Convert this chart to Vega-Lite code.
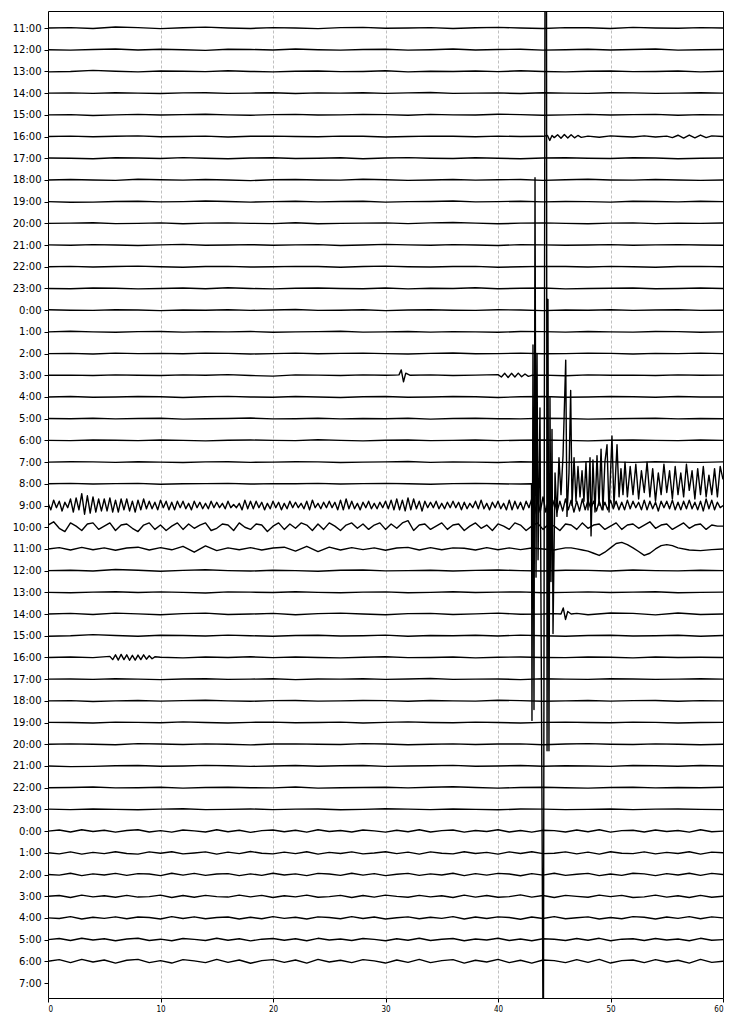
{
"$schema": "https://vega.github.io/schema/vega-lite/v6.json",
"autosize": {"type": "none"},
"padding": {"left": 48, "top": 11, "right": 13, "bottom": 26},
"width": 675,
"height": 987,
"background": "white",
"data": {"values": [
{"row":0,"t":[0,2,4,6,8,10,12,14,16,18,20,22,24,26,28,30,32,34,36,38,40,42,44,46,48,50,52,54,56,58,60],"v":[0,0.02,-0.02,0.05,0.02,-0.03,0.01,0.04,0,-0.02,0.02,0,-0.03,0.02,0.03,-0.01,0,0.02,-0.02,0.01,0.03,0,-0.02,0.02,0.01,-0.02,0.03,0,-0.01,0.02,0]},
{"row":1,"t":[0,2,4,6,8,10,12,14,16,18,20,22,24,26,28,30,32,34,36,38,40,42,44,46,48,50,52,54,56,58,60],"v":[0,-0.02,0.01,0.03,-0.01,0.02,0,-0.03,0.02,0.01,-0.01,0.03,0,-0.02,0.01,0.02,-0.02,0,0.03,-0.01,0.01,0.02,-0.02,0,0.02,-0.01,0.01,0.03,-0.02,0,0.01]},
{"row":2,"t":[0,2,4,6,8,10,12,14,16,18,20,22,24,26,28,30,32,34,36,38,40,42,44,46,48,50,52,54,56,58,60],"v":[-0.02,0,0.05,0.01,-0.02,0.02,0.01,-0.01,0.03,0,-0.02,0.01,0.02,-0.01,0,0.03,-0.02,0.01,0,0.02,-0.01,0.03,0,-0.02,0.01,0.02,-0.01,0,0.02,-0.02,0.01]},
{"row":3,"t":[0,2,4,6,8,10,12,14,16,18,20,22,24,26,28,30,32,34,36,38,40,42,44,46,48,50,52,54,56,58,60],"v":[0,0.01,-0.01,0.02,0,-0.02,0.01,0.02,-0.01,0,0.02,-0.02,0.01,0,0.02,-0.01,0.01,0.03,-0.01,0,0.01,-0.02,0.02,0,-0.01,0.02,0.01,-0.01,0,0.02,0]},
{"row":4,"t":[0,2,4,6,8,10,12,14,16,18,20,22,24,26,28,30,32,34,36,38,40,42,44,46,48,50,52,54,56,58,60],"v":[0,0.01,-0.03,0,0.02,-0.01,0.01,0.03,0,-0.02,0.01,0.02,-0.01,0,0.02,0.01,-0.02,0.02,0,-0.01,0.03,0.01,-0.02,0,0.02,-0.01,0.01,0.02,-0.02,0.01,0]},
{"row":5,"t":[0,2,4,6,8,10,12,14,16,18,20,22,24,26,28,30,32,34,36,38,40,42,44,44.4,44.6,44.8,45,45.3,45.6,45.9,46.2,46.5,46.8,47.1,47.4,48,49,50,51,52,53,54,55,55.5,56,56.5,57,57.5,58,58.5,59,60],"v":[0,0.02,-0.01,0.01,0.03,-0.01,0,0.02,-0.02,0.01,0.02,0,-0.01,0.02,0.01,-0.02,0,0.02,0.01,-0.01,0.02,0,0.01,0.05,-0.18,0.05,-0.05,0.08,-0.08,0.09,-0.07,0.08,-0.06,0.05,-0.04,0.02,-0.03,0.03,0,-0.02,0.03,-0.02,0.02,-0.05,0.06,-0.07,0.07,-0.06,0.07,-0.05,0.03,0]},
{"row":6,"t":[0,2,4,6,8,10,12,14,16,18,20,22,24,26,28,30,32,34,36,38,40,42,44,46,48,50,52,54,56,58,60],"v":[0.01,0,-0.02,0.02,0.01,-0.01,0.03,0,-0.02,0.01,0.02,-0.01,0,0.02,-0.02,0.01,0.03,0,-0.01,0.02,0,-0.02,0.01,0.02,0,-0.01,0.02,0.01,-0.02,0,0.01]},
{"row":7,"t":[0,2,4,6,8,10,12,14,16,18,20,22,24,26,28,30,32,34,36,38,40,42,44,46,48,50,52,54,56,58,60],"v":[0,0.02,0,-0.02,0.03,0.01,-0.01,0.02,0,-0.03,0.01,0.02,0,-0.01,0.03,0.01,-0.02,0,0.02,-0.01,0.01,0.02,-0.02,0.01,0.03,0,-0.01,0.02,0,-0.02,0]},
{"row":8,"t":[0,2,4,6,8,10,12,14,16,18,20,22,24,26,28,30,32,34,36,38,40,42,44,46,48,50,52,54,56,58,60],"v":[0,-0.03,-0.02,0.01,0.02,-0.01,0,0.03,0.01,-0.02,0,0.02,-0.01,0.01,0.02,-0.02,0,0.01,0.03,-0.01,0,0.02,-0.01,0.01,0,-0.02,0.02,0.01,-0.01,0.02,0]},
{"row":9,"t":[0,2,4,6,8,10,12,14,16,18,20,22,24,26,28,30,32,34,36,38,40,42,44,46,48,50,52,54,56,58,60],"v":[0,0.01,0.03,-0.01,0,0.02,-0.02,0.01,0.02,0,-0.01,0.03,-0.02,0,0.01,0.02,-0.01,0.02,0.04,0.01,-0.02,0.01,0.02,0,-0.02,0.01,0.02,-0.01,0.01,0,0.02]},
{"row":10,"t":[0,2,4,6,8,10,12,14,16,18,20,22,24,26,28,30,32,34,36,38,40,42,44,46,48,50,52,54,56,58,60],"v":[0.01,-0.01,0.02,0,-0.02,0.01,0.03,-0.01,0,0.02,-0.01,0.01,0.02,-0.02,0,0.03,0.01,-0.01,0.02,0,-0.02,0.02,0.01,-0.01,0,0.02,-0.01,0.01,0.02,0,-0.01]},
{"row":11,"t":[0,2,4,6,8,10,12,14,16,18,20,22,24,26,28,30,32,34,36,38,40,42,44,46,48,50,52,54,56,58,60],"v":[0,0.02,-0.01,0.01,0.03,0,-0.02,0.01,0.02,-0.01,0,0.02,0.01,-0.02,0.01,0.03,0,-0.01,0.01,0.02,-0.02,0,0.02,0.01,-0.01,0.02,0,-0.02,0.01,0.02,0]},
{"row":12,"t":[0,2,4,6,8,10,12,14,16,18,20,22,24,26,28,30,32,34,36,38,40,42,44,46,48,50,52,54,56,58,60],"v":[0,-0.01,0.02,0.01,-0.02,0,0.02,-0.01,0.03,0,-0.02,0.01,0.02,0,-0.01,0.02,-0.02,0.01,0,0.03,-0.01,0.01,0.02,-0.02,0,0.01,0.02,-0.01,0,0.02,0]},
{"row":13,"t":[0,2,4,6,8,10,12,14,16,18,20,22,24,26,28,30,32,34,36,38,40,42,44,46,48,50,52,54,56,58,60],"v":[0.02,0,-0.01,0.02,0.01,-0.02,0.01,0,0.02,-0.01,0.01,0.03,-0.01,0,0.02,-0.02,0.01,0.02,0,-0.01,0.02,0.01,-0.02,0.01,0,0.02,-0.01,0.01,0.02,-0.01,0]},
{"row":14,"t":[0,2,4,6,8,10,12,14,16,18,20,22,24,26,28,30,32,34,36,38,40,42,44,46,48,50,52,54,56,58,60],"v":[0,0.03,0,-0.02,0.01,0.02,-0.01,0.01,0,0.02,-0.02,0,0.01,0.03,-0.01,0,0.02,-0.01,0.01,0,-0.02,0.02,0.01,-0.01,0.02,0,-0.01,0.02,0.01,-0.02,0]},
{"row":15,"t":[0,2,4,6,8,10,12,14,16,18,20,22,24,26,28,30,32,34,36,38,40,42,44,46,48,50,52,54,56,58,60],"v":[0,0.01,-0.02,0.02,0,0.01,-0.01,0.02,0.01,-0.02,0,0.02,-0.01,0.01,0.02,0,-0.02,0.01,0.03,-0.01,0,0.02,-0.01,0,0.02,0.01,-0.02,0.01,0,0.02,0]},
{"row":16,"t":[0,2,4,6,8,10,12,14,16,18,20,22,24,26,28,30,30.8,31.2,31.4,31.6,31.8,32.2,34,36,38,40,40.3,40.6,40.9,41.2,41.5,41.8,42.1,42.4,42.7,43,44,46,48,50,52,54,56,58,60],"v":[0,0.01,-0.01,0.02,0,-0.01,0.02,0,0.03,-0.01,-0.04,0.02,0.01,-0.01,0.02,0,0.01,0.02,0.25,-0.3,0.1,0,0.02,-0.01,0.01,0.03,-0.08,0.09,-0.1,0.09,-0.08,0.1,-0.07,0.06,-0.05,0,0.01,-0.02,0.02,0,0.01,-0.01,0.02,0,0.01]},
{"row":17,"t":[0,2,4,6,8,10,12,14,16,18,20,22,24,26,28,30,32,34,36,38,40,42,44,46,48,50,52,54,56,58,60],"v":[0,0.02,-0.01,0,0.02,0.01,-0.02,0.01,0.03,0,-0.01,0.02,0,-0.02,0.01,0.02,-0.01,0,0.02,0.01,-0.02,0.01,0.02,-0.01,0,0.02,0.01,-0.01,0.02,0,0]},
{"row":18,"t":[0,2,4,6,8,10,12,14,16,18,20,22,24,26,28,30,32,34,36,38,40,42,44,46,48,50,52,54,56,58,60],"v":[0.01,0,0.02,-0.01,0.01,0.02,-0.02,0,0.01,0.03,-0.01,0,0.02,-0.01,0.01,0,0.02,-0.02,0.01,0.02,0,-0.01,0.02,0.01,-0.02,0,0.01,0.02,-0.01,0.01,0]},
{"row":19,"t":[0,2,4,6,8,10,12,14,16,18,20,22,24,26,28,30,32,34,36,38,40,42,44,46,48,50,52,54,56,58,60],"v":[0,-0.01,0.02,0.01,-0.01,0.02,0,-0.02,0.01,0.02,0,-0.01,0.03,0,-0.02,0.01,0.02,-0.01,0,0.02,-0.01,0.01,0.02,0,-0.02,0.01,0.02,0,-0.01,0.02,0]},
{"row":20,"t":[0,2,4,6,8,10,12,14,16,18,20,22,24,26,28,30,32,34,36,38,40,42,44,46,48,50,52,54,56,58,60],"v":[0,0.02,0.01,-0.01,0.02,0,-0.02,0.01,0.02,-0.01,0,0.02,0.01,-0.02,0,0.01,0.03,-0.01,0.01,0,-0.02,0.02,0,-0.01,0.02,0.01,-0.01,0.02,0,-0.01,0.01]},
{"row":21,"t":[0,2,4,6,8,10,12,14,16,18,20,22,24,26,28,30,32,34,36,38,40,42,42.98,43.02,43.11,43.2,43.29,43.38,43.47,43.56,43.73,43.87,44.0,44.04,44.18,44.31,44.36,44.44,44.53,44.62,44.71,44.8,44.89,45.07,45.24,45.42,45.6,45.78,46.02,46.13,46.31,46.46,46.58,46.76,46.93,47.11,47.29,47.47,47.64,47.82,48.0,48.18,48.27,48.44,48.62,48.8,48.98,49.16,49.33,49.5,49.69,49.87,50.13,50.31,50.58,50.76,50.93,51.11,51.29,51.5,51.75,52,52.25,52.5,52.75,53,53.25,53.5,53.75,54,54.25,54.5,54.75,55,55.25,55.5,55.75,56,56.25,56.5,56.75,57,57.25,57.5,57.75,58,58.25,58.5,58.75,59,59.25,59.5,59.75,60],"v":[0,0.02,-0.01,0.01,0.02,-0.02,0,0.01,0.02,-0.01,0.01,0,0.02,-0.01,0.01,0.02,0,-0.02,0.01,0.02,0,-0.01,0,-10.9,6.4,-10.4,14.1,-4.3,6.0,-3.5,3.5,-10.5,-25,-25,24,24,-12.3,8.5,-12.3,4.0,-4.5,2.5,-6.9,0.5,-1.5,1.2,-0.5,1.3,5.7,-1.5,0.5,4.3,-1.0,1.2,-0.8,0.8,-0.6,0.6,-0.8,1.0,-1.2,1.2,-2.4,1.1,-1.3,1.3,-1.0,1.6,-1.2,1.0,1.8,-1.3,2.2,-1.0,1.8,-0.6,0.7,-0.5,1.0,-0.6,0.8,-0.5,0.9,-0.7,0.6,-0.4,1.0,-0.6,0.7,-0.8,0.5,-0.5,0.9,-0.4,0.6,-0.7,0.8,-0.5,0.5,-0.6,0.9,-0.3,0.6,-0.7,0.7,-0.5,0.8,-0.6,0.4,-0.5,0.7,-0.6,0.8,0.2]},
{"row":22,"t":[0,0.25,0.5,0.75,1,1.25,1.5,1.75,2,2.25,2.5,2.75,3,3.25,3.5,3.75,4,4.25,4.5,4.75,5,5.25,5.5,5.75,6,6.25,6.5,6.75,7,7.25,7.5,7.75,8,8.25,8.5,8.75,9,9.25,9.5,9.75,10,10.25,10.5,10.75,11,11.25,11.5,11.75,12,12.25,12.5,12.75,13,13.25,13.5,13.75,14,14.25,14.5,14.75,15,15.25,15.5,15.75,16,16.25,16.5,16.75,17,17.25,17.5,17.75,18,18.25,18.5,18.75,19,19.25,19.5,19.75,20,20.25,20.5,20.75,21,21.25,21.5,21.75,22,22.25,22.5,22.75,23,23.25,23.5,23.75,24,24.25,24.5,24.75,25,25.25,25.5,25.75,26,26.25,26.5,26.75,27,27.25,27.5,27.75,28,28.25,28.5,28.75,29,29.25,29.5,29.75,30,30.25,30.5,30.75,31,31.25,31.5,31.75,32,32.25,32.5,32.75,33,33.25,33.5,33.75,34,34.25,34.5,34.75,35,35.25,35.5,35.75,36,36.25,36.5,36.75,37,37.25,37.5,37.75,38,38.25,38.5,38.75,39,39.25,39.5,39.75,40,40.25,40.5,40.75,41,41.25,41.5,41.75,42,42.25,42.5,42.75,43,43.25,43.5,43.75,44,44.25,44.5,44.75,45,45.25,45.5,45.75,46,46.25,46.5,46.75,47,47.25,47.5,47.75,48,48.25,48.5,48.75,49,49.25,49.5,49.75,50,50.25,50.5,50.75,51,51.25,51.5,51.75,52,52.25,52.5,52.75,53,53.25,53.5,53.75,54,54.25,54.5,54.75,55,55.25,55.5,55.75,56,56.25,56.5,56.75,57,57.25,57.5,57.75,58,58.25,58.5,58.75,59,59.25,59.5,59.75,60],"v":[0.1,-0.2,0.25,-0.1,0.2,-0.25,0.15,-0.1,0.3,-0.3,0.35,-0.2,0.55,-0.4,0.45,-0.35,0.4,-0.3,0.3,-0.25,0.3,-0.25,0.35,-0.3,0.25,-0.3,0.3,-0.2,0.3,-0.25,0.2,-0.3,0.25,-0.2,0.3,-0.15,0.2,-0.15,0.15,-0.2,0.25,-0.1,0.2,-0.2,0.15,-0.2,0.2,-0.1,0.2,-0.15,0.1,-0.2,0.2,-0.1,0.15,-0.15,0.1,-0.15,0.2,-0.1,0.15,-0.1,0.1,-0.15,0.2,-0.1,0.05,-0.1,0.1,-0.2,0.25,-0.15,0.2,-0.15,0.2,-0.1,0.15,-0.2,0.1,-0.15,0.2,-0.1,0.15,-0.2,0.1,-0.15,0.2,-0.1,0.15,-0.1,0.1,-0.15,0.2,-0.2,0.25,-0.1,0.1,-0.15,0.15,-0.1,0.2,-0.1,0.15,-0.2,0.25,-0.2,0.3,-0.15,0.2,-0.15,0.1,-0.2,0.15,-0.1,0.2,-0.15,0.1,-0.15,0.15,-0.1,0.2,-0.15,0.25,-0.2,0.3,-0.2,0.25,-0.25,0.35,-0.2,0.3,-0.15,0.2,-0.25,0.2,-0.1,0.15,-0.1,0.2,-0.15,0.1,-0.15,0.15,-0.1,0.2,-0.1,0.15,-0.2,0.15,-0.15,0.1,-0.1,0.2,-0.15,0.25,-0.15,0.1,-0.2,0.15,-0.1,0.2,-0.15,0.1,-0.2,0.25,-0.2,0.2,-0.15,0.15,-0.2,0.2,-0.1,0.3,-0.4,0.3,-0.3,0.4,-0.3,0.3,-0.25,0.25,-0.3,0.2,-0.25,0.3,-0.2,0.25,-0.3,0.2,-0.25,0.3,-0.2,0.25,-0.15,0.2,-0.25,0.2,-0.2,0.15,-0.2,0.25,-0.15,0.2,-0.2,0.15,-0.2,0.25,-0.15,0.2,-0.1,0.15,-0.2,0.25,-0.2,0.2,-0.15,0.15,-0.25,0.2,-0.1,0.2,-0.15,0.25,-0.2,0.15,-0.2,0.2,-0.15,0.25,-0.15,0.15,-0.2,0.2,-0.25,0.3,-0.15,0.25,-0.2,0.15,-0.1,0]},
{"row":23,"t":[0,0.5,1,1.5,2,2.5,3,3.5,4,4.5,5,5.5,6,6.5,7,7.5,8,8.5,9,9.5,10,10.5,11,11.5,12,12.5,13,13.5,14,14.5,15,15.5,16,16.5,17,17.5,18,18.5,19,19.5,20,20.5,21,21.5,22,22.5,23,23.5,24,24.5,25,25.5,26,26.5,27,27.5,28,28.5,29,29.5,30,30.5,31,31.5,32,32.5,33,33.5,34,34.5,35,35.5,36,36.5,37,37.5,38,38.5,39,39.5,40,40.5,41,41.5,42,42.5,43,43.5,44,44.5,45,45.5,46,46.5,47,47.5,48,48.5,49,49.5,50,50.5,51,51.5,52,52.5,53,53.5,54,54.5,55,55.5,56,56.5,57,57.5,58,58.5,59,59.5,60],"v":[0.1,0.25,-0.05,-0.2,0.2,0.05,-0.15,0.15,0.2,-0.1,0.05,0.2,-0.15,0.1,0.15,-0.05,-0.2,0.1,0.2,-0.1,0.1,-0.15,0.05,0.2,-0.1,0.15,-0.05,0.1,0.2,-0.15,-0.05,0.15,0.1,-0.15,0.2,0,-0.1,0.15,0.1,-0.2,0.05,0.2,-0.1,0.15,-0.05,0.2,0.1,-0.15,0.15,-0.1,0.2,0.05,-0.15,0.1,0.2,-0.05,0.15,-0.1,0.1,0.2,-0.1,0.15,-0.05,0.2,0.3,-0.15,0.1,0.15,-0.1,0.05,0.2,-0.1,0.1,0.15,-0.15,0.05,0.2,-0.05,0.1,-0.15,0.15,0.05,-0.1,0.2,0.1,-0.15,0.05,0.2,-0.1,0.15,0.05,-0.15,0.15,0.1,-0.1,0.2,-0.05,0.1,0.15,-0.1,0.05,0.2,-0.1,0.1,0.15,-0.05,0.1,0.25,-0.05,0.1,0.15,-0.1,0.05,0.2,-0.05,0.1,0.15,-0.1,0.1,0.05,0.05]},
{"row":24,"t":[0,1,2,3,4,5,6,7,8,9,10,11,12,13,14,15,16,17,18,19,20,21,22,23,24,25,26,27,28,29,30,31,32,33,34,35,36,37,38,39,40,41,42,43,44,45,45.5,46,46.5,47,47.5,48,48.5,49,49.5,50,50.5,51,51.5,52,52.5,53,53.5,54,54.5,55,55.5,56,57,58,59,60],"v":[0,0.06,-0.05,0.07,-0.04,0.05,-0.06,0.04,0.08,-0.05,0.06,-0.04,0.12,-0.15,0.14,-0.08,0.05,-0.04,0.06,-0.05,0.04,0.08,-0.1,0.12,-0.12,0.08,-0.05,0.06,-0.03,0.05,-0.06,0.04,0.07,-0.05,0.06,-0.04,0.05,0.03,-0.05,0.06,-0.04,0.05,-0.03,0.04,0,-0.05,0,0.05,0.05,0,-0.05,-0.1,-0.2,-0.3,-0.15,0.05,0.25,0.3,0.2,0.05,-0.12,-0.3,-0.2,0,0.15,0.2,0.15,0.05,-0.05,-0.08,-0.03,0]},
{"row":25,"t":[0,2,4,6,8,10,12,14,16,18,20,22,24,26,28,30,32,34,36,38,40,42,44,46,48,50,52,54,56,58,60],"v":[0,0.02,-0.02,0.05,0.02,-0.03,0.01,0.04,0,-0.02,0.02,0,-0.03,0.02,0.03,-0.01,0,0.02,-0.02,0.01,0.03,0,-0.02,0.02,0.01,-0.02,0.03,0,-0.01,0.02,0]},
{"row":26,"t":[0,2,4,6,8,10,12,14,16,18,20,22,24,26,28,30,32,34,36,38,40,42,44,46,48,50,52,54,56,58,60],"v":[0,-0.02,0.01,0.03,-0.01,0.02,0,-0.03,0.02,0.01,-0.01,0.03,0,-0.02,0.01,0.02,-0.02,0,0.03,-0.01,0.01,0.02,-0.02,0,0.02,-0.01,0.01,0.03,-0.02,0,0.01]},
{"row":27,"t":[0,2,4,6,8,10,12,14,16,18,20,22,24,26,28,30,32,34,36,38,40,42,44,45,45.6,45.8,46,46.2,46.5,47,48,50,52,54,56,58,60],"v":[0,0.03,-0.02,0.04,0.01,-0.03,0.02,0.04,-0.02,0,0.03,-0.03,0.02,0.04,0,-0.03,0.02,0.03,-0.02,0.01,0.04,-0.01,0,0.02,0,0.28,-0.25,0.12,0,0.03,-0.03,0.05,0.03,-0.04,0.05,-0.02,0]},
{"row":28,"t":[0,2,4,6,8,10,12,14,16,18,20,22,24,26,28,30,32,34,36,38,40,42,44,46,48,50,52,54,56,58,60],"v":[-0.02,0,0.05,0.01,-0.02,0.02,0.01,-0.01,0.03,0,-0.02,0.01,0.02,-0.01,0,0.03,-0.02,0.01,0,0.02,-0.01,0.03,0,-0.02,0.01,0.02,-0.01,0,0.02,-0.02,0.01]},
{"row":29,"t":[0,2,4,5.5,5.75,6,6.25,6.5,6.75,7,7.25,7.5,7.75,8,8.25,8.5,8.75,9,9.25,9.5,10,12,14,16,18,20,22,24,26,28,30,32,34,36,38,40,42,44,46,48,50,52,54,56,58,60],"v":[0,0.02,-0.01,0.05,-0.1,0.12,-0.12,0.14,-0.1,0.12,-0.13,0.1,-0.12,0.11,-0.1,0.12,-0.08,0.08,-0.06,0.03,0.01,-0.02,0.02,0,0.03,-0.01,0.02,0,-0.02,0.01,0.03,-0.01,0,0.02,-0.02,0.01,0.02,0,-0.01,0.02,0.01,-0.02,0.02,0,0.01,0]},
{"row":30,"t":[0,2,4,6,8,10,12,14,16,18,20,22,24,26,28,30,32,34,36,38,40,42,44,46,48,50,52,54,56,58,60],"v":[0,0.01,-0.01,0.02,0,-0.02,0.01,0.02,-0.01,0,0.02,-0.02,0.01,0,0.02,-0.01,0.01,0.03,-0.01,0,0.01,-0.02,0.02,0,-0.01,0.02,0.01,-0.01,0,0.02,0]},
{"row":31,"t":[0,2,4,6,8,10,12,14,16,18,20,22,24,26,28,30,32,34,36,38,40,42,44,46,48,50,52,54,56,58,60],"v":[0,0.01,-0.03,0,0.02,-0.01,0.01,0.03,0,-0.02,0.01,0.02,-0.01,0,0.02,0.01,-0.02,0.02,0,-0.01,0.03,0.01,-0.02,0,0.02,-0.01,0.01,0.02,-0.02,0.01,0]},
{"row":32,"t":[0,2,4,6,8,10,12,14,16,18,20,22,24,26,28,30,32,34,36,38,40,42,44,46,48,50,52,54,56,58,60],"v":[0.01,0,-0.02,0.02,0.01,-0.01,0.03,0,-0.02,0.01,0.02,-0.01,0,0.02,-0.02,0.01,0.03,0,-0.01,0.02,0,-0.02,0.01,0.02,0,-0.01,0.02,0.01,-0.02,0,0.01]},
{"row":33,"t":[0,2,4,6,8,10,12,14,16,18,20,22,24,26,28,30,32,34,36,38,40,42,44,46,48,50,52,54,56,58,60],"v":[0,0.02,0,-0.02,0.03,0.01,-0.01,0.02,0,-0.03,0.01,0.02,0,-0.01,0.03,0.01,-0.02,0,0.02,-0.01,0.01,0.02,-0.02,0.01,0.03,0,-0.01,0.02,0,-0.02,0]},
{"row":34,"t":[0,2,4,6,8,10,12,14,16,18,20,22,24,26,28,30,32,34,36,38,40,42,44,46,48,50,52,54,56,58,60],"v":[0,-0.03,-0.02,0.01,0.02,-0.01,0,0.03,0.01,-0.02,0,0.02,-0.01,0.01,0.02,-0.02,0,0.01,0.03,-0.01,0,0.02,-0.01,0.01,0,-0.02,0.02,0.01,-0.01,0.02,0]},
{"row":35,"t":[0,2,4,6,8,10,12,14,16,18,20,22,24,26,28,30,32,34,36,38,40,42,44,46,48,50,52,54,56,58,60],"v":[0,0.01,0.03,-0.01,0,0.02,-0.02,0.01,0.02,0,-0.01,0.03,-0.02,0,0.01,0.02,-0.01,0.02,0.04,0.01,-0.02,0.01,0.02,0,-0.02,0.01,0.02,-0.01,0.01,0,0.02]},
{"row":36,"t":[0,2,4,6,8,10,12,14,16,18,20,22,24,26,28,30,32,34,36,38,40,42,44,46,48,50,52,54,56,58,60],"v":[0.01,-0.01,0.02,0,-0.02,0.01,0.03,-0.01,0,0.02,-0.01,0.01,0.02,-0.02,0,0.03,0.01,-0.01,0.02,0,-0.02,0.02,0.01,-0.01,0,0.02,-0.01,0.01,0.02,0,-0.01]},
{"row":37,"t":[0,1,2,3,4,5,6,7,8,9,10,11,12,13,14,15,16,17,18,19,20,21,22,23,24,25,26,27,28,29,30,31,32,33,34,35,36,37,38,39,40,41,42,43,44,45,46,47,48,49,50,51,52,53,54,55,56,57,58,59,60],"v":[0,0.05,-0.04,0.06,-0.02,0.04,-0.05,0.03,0.06,-0.04,0.02,-0.05,0.05,0.01,-0.04,0.06,-0.03,0.04,-0.06,0.02,0.05,-0.03,0.04,-0.05,0.06,-0.02,0.03,-0.04,0.05,0.01,-0.05,0.04,-0.03,0.06,-0.04,0.02,0.05,-0.05,0.03,-0.02,0.06,-0.04,0.03,-0.05,0.04,0.02,-0.04,0.05,-0.03,0.06,-0.05,0.02,0.04,-0.04,0.05,-0.02,0.03,-0.05,0.06,-0.03,0]},
{"row":38,"t":[0,1,2,3,4,5,6,7,8,9,10,11,12,13,14,15,16,17,18,19,20,21,22,23,24,25,26,27,28,29,30,31,32,33,34,35,36,37,38,39,40,41,42,43,44,45,46,47,48,49,50,51,52,53,54,55,56,57,58,59,60],"v":[0,-0.05,0.04,-0.06,0.02,-0.04,0.05,-0.03,-0.06,0.04,-0.02,0.05,-0.05,-0.01,0.04,-0.06,0.03,-0.04,0.06,-0.02,-0.05,0.03,-0.04,0.05,-0.06,0.02,-0.03,0.04,-0.05,-0.01,0.05,-0.04,0.03,-0.06,0.04,-0.02,-0.05,0.05,-0.03,0.02,-0.06,0.04,-0.03,0.05,-0.04,-0.02,0.04,-0.05,0.03,-0.06,0.05,-0.02,-0.04,0.04,-0.05,0.02,-0.03,0.05,-0.06,0.03,0]},
{"row":39,"t":[0,1,2,3,4,5,6,7,8,9,10,11,12,13,14,15,16,17,18,19,20,21,22,23,24,25,26,27,28,29,30,31,32,33,34,35,36,37,38,39,40,41,42,43,44,45,46,47,48,49,50,51,52,53,54,55,56,57,58,59,60],"v":[0,-0.03,0.06,-0.05,0.03,-0.02,0.05,-0.04,0.04,0.02,-0.05,0.06,-0.03,0.05,-0.04,0.02,0.04,-0.05,0.03,-0.04,0.06,-0.02,0.03,-0.05,0.05,0.02,-0.04,0.06,-0.03,0.04,-0.05,0.01,0.05,-0.04,0.03,-0.02,0.06,-0.05,0.04,-0.03,0.05,0.02,-0.06,0.04,-0.03,0.06,-0.04,0.01,0.05,-0.05,0.02,-0.04,0.06,0.03,-0.05,0.04,-0.02,0.06,-0.04,0.05,0]},
{"row":40,"t":[0,1,2,3,4,5,6,7,8,9,10,11,12,13,14,15,16,17,18,19,20,21,22,23,24,25,26,27,28,29,30,31,32,33,34,35,36,37,38,39,40,41,42,43,44,45,46,47,48,49,50,51,52,53,54,55,56,57,58,59,60],"v":[0,0.03,-0.06,0.05,-0.03,0.02,-0.05,0.04,-0.04,-0.02,0.05,-0.06,0.03,-0.05,0.04,-0.02,-0.04,0.05,-0.03,0.04,-0.06,0.02,-0.03,0.05,-0.05,-0.02,0.04,-0.06,0.03,-0.04,0.05,-0.01,-0.05,0.04,-0.03,0.02,-0.06,0.05,-0.04,0.03,-0.05,-0.02,0.06,-0.04,0.03,-0.06,0.04,-0.01,-0.05,0.05,-0.02,0.04,-0.06,-0.03,0.05,-0.04,0.02,-0.06,0.04,-0.05,0]},
{"row":41,"t":[0,1,2,3,4,5,6,7,8,9,10,11,12,13,14,15,16,17,18,19,20,21,22,23,24,25,26,27,28,29,30,31,32,33,34,35,36,37,38,39,40,41,42,43,44,45,46,47,48,49,50,51,52,53,54,55,56,57,58,59,60],"v":[0,-0.03,0.06,-0.05,0.03,-0.02,0.05,-0.04,0.04,0.02,-0.05,0.06,-0.03,0.05,-0.04,0.02,0.04,-0.05,0.03,-0.04,0.06,-0.02,0.03,-0.05,0.05,0.02,-0.04,0.06,-0.03,0.04,-0.05,0.01,0.05,-0.04,0.03,-0.02,0.06,-0.05,0.04,-0.03,0.05,0.02,-0.06,0.04,-0.03,0.06,-0.04,0.01,0.05,-0.05,0.02,-0.04,0.06,0.03,-0.05,0.04,-0.02,0.06,-0.04,0.05,0]},
{"row":42,"t":[0,1,2,3,4,5,6,7,8,9,10,11,12,13,14,15,16,17,18,19,20,21,22,23,24,25,26,27,28,29,30,31,32,33,34,35,36,37,38,39,40,41,42,43,44,45,46,47,48,49,50,51,52,53,54,55,56,57,58,59,60],"v":[0,0.05,-0.04,0.06,-0.02,0.04,-0.05,0.03,0.06,-0.04,0.02,-0.05,0.05,0.01,-0.04,0.06,-0.03,0.04,-0.06,0.02,0.05,-0.03,0.04,-0.05,0.06,-0.02,0.03,-0.04,0.05,0.01,-0.05,0.04,-0.03,0.06,-0.04,0.02,0.05,-0.05,0.03,-0.02,0.06,-0.04,0.03,-0.05,0.04,0.02,-0.04,0.05,-0.03,0.06,-0.05,0.02,0.04,-0.04,0.05,-0.02,0.03,-0.05,0.06,-0.03,0]},
{"row":43,"t":[0,1,2,3,4,5,6,7,8,9,10,11,12,13,14,15,16,17,18,19,20,21,22,23,24,25,26,27,28,29,30,31,32,33,34,35,36,37,38,39,40,41,42,43,44,45,46,47,48,49,50,51,52,53,54,55,56,57,58,59,60],"v":[0,0.08,-0.06,0.09,-0.03,0.06,-0.08,0.05,0.09,-0.06,0.03,-0.08,0.08,0.02,-0.06,0.09,-0.05,0.06,-0.09,0.03,0.08,-0.05,0.06,-0.08,0.09,-0.03,0.05,-0.06,0.08,0.02,-0.08,0.06,-0.05,0.09,-0.06,0.03,0.08,-0.08,0.05,-0.03,0.09,-0.06,0.05,-0.08,0.06,0.03,-0.06,0.08,-0.05,0.09,-0.08,0.03,0.06,-0.06,0.08,-0.03,0.05,-0.08,0.09,-0.05,0]}
]},
"transform": [
  {"flatten": ["t", "v"]},
  {"calculate": "datum.row - datum.v", "as": "y"}
],
"mark": {"type": "line", "color": "black", "strokeWidth": 1.4, "strokeJoin": "round", "clip": true},
"encoding": {
  "x": {"field": "t", "type": "quantitative",
        "scale": {"domain": [0, 60], "nice": false, "zero": false},
        "axis": {"values": [0, 10, 20, 30, 40, 50, 60], "title": null, "grid": true,
                 "gridColor": "#b0b0b0", "gridDash": [3, 2], "gridWidth": 0.8,
                 "gridOpacity": {"condition": {"test": "datum.value == 0 || datum.value == 60", "value": 0}, "value": 1},
                 "domain": false, "tickColor": "black", "tickSize": 4,
                 "labelFont": "Liberation Sans Narrow, DejaVu Sans Condensed, sans-serif",
                 "labelFontSize": 8, "labelColor": "black", "labelPadding": 3}},
  "y": {"field": "y", "type": "quantitative",
        "scale": {"domain": [-0.784, 44.69], "reverse": true, "nice": false, "zero": false},
        "axis": {"values": [0,1,2,3,4,5,6,7,8,9,10,11,12,13,14,15,16,17,18,19,20,21,22,23,24,25,26,27,28,29,30,31,32,33,34,35,36,37,38,39,40,41,42,43,44],
                 "labelExpr": "['11:00','12:00','13:00','14:00','15:00','16:00','17:00','18:00','19:00','20:00','21:00','22:00','23:00','0:00','1:00','2:00','3:00','4:00','5:00','6:00','7:00','8:00','9:00','10:00','11:00','12:00','13:00','14:00','15:00','16:00','17:00','18:00','19:00','20:00','21:00','22:00','23:00','0:00','1:00','2:00','3:00','4:00','5:00','6:00','7:00'][datum.value]",
                 "title": null, "grid": false, "domain": false, "tickColor": "black", "tickSize": 4,
                 "labelFont": "DejaVu Sans", "labelFontSize": 10, "labelColor": "black", "labelPadding": 3,
                 "labelOverlap": false, "labelBound": false}},
  "detail": {"field": "row", "type": "nominal"}
},
"config": {"view": {"stroke": "black", "strokeWidth": 1}}
}
